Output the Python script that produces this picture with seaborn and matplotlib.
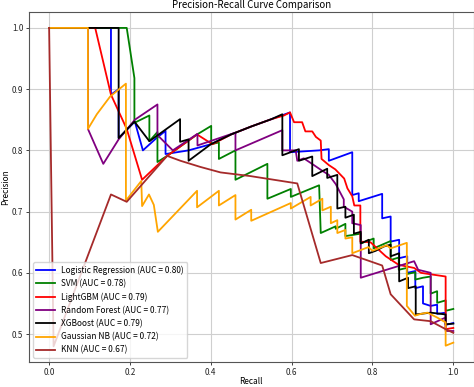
import matplotlib
matplotlib.use("Agg")
import matplotlib.pyplot as plt
from matplotlib.lines import Line2D
import pandas as pd
import seaborn as sns

MODELS = ["Logistic Regression", "SVM", "LightGBM", "Random Forest",
          "XGBoost", "Gaussian NB", "KNN"]
AUC = [0.80, 0.78, 0.79, 0.77, 0.79, 0.72, 0.67]
COLORS = ["blue", "green", "red", "purple", "black", "orange", "brown"]

# values
lr_recall = [0.0, 0.153, 0.153, 0.172, 0.172, 0.212, 0.232, 0.262, 0.288, 0.288,
             0.345, 0.40, 0.45, 0.50, 0.55, 0.596, 0.596, 0.668, 0.692, 0.692,
             0.75, 0.75, 0.766, 0.766, 0.824, 0.824, 0.845, 0.845, 0.866, 0.866,
             0.886, 0.886, 0.906, 0.906, 0.925, 0.925, 0.944, 0.96, 0.96, 0.981,
             0.981, 1.0]
lr_precision = [1.0, 1.0, 0.891, 0.900, 0.82, 0.847, 0.80, 0.818, 0.832, 0.794,
                0.80, 0.81, 0.826, 0.839, 0.851, 0.862, 0.797, 0.80, 0.802, 0.783,
                0.797, 0.727, 0.730, 0.717, 0.729, 0.689, 0.692, 0.651, 0.654, 0.624,
                0.627, 0.60, 0.603, 0.575, 0.578, 0.55, 0.546, 0.548, 0.533, 0.535,
                0.515, 0.518]

svm_recall = [0.0, 0.192, 0.211, 0.211, 0.248, 0.248, 0.268, 0.268, 0.292, 0.366,
              0.401, 0.401, 0.42, 0.42, 0.461, 0.461, 0.54, 0.54, 0.598, 0.598,
              0.668, 0.672, 0.709, 0.709, 0.733, 0.733, 0.771, 0.771, 0.803, 0.803,
              0.845, 0.845, 0.865, 0.865, 0.885, 0.885, 0.906, 0.906, 0.925, 0.944,
              0.944, 0.960, 0.960, 0.981, 0.981, 1.0]
svm_precision = [1.0, 1.0, 0.918, 0.845, 0.857, 0.815, 0.83, 0.781, 0.791, 0.826,
                 0.840, 0.81, 0.813, 0.786, 0.80, 0.752, 0.778, 0.721, 0.737, 0.724,
                 0.743, 0.665, 0.676, 0.672, 0.680, 0.66, 0.664, 0.648, 0.656, 0.64,
                 0.652, 0.621, 0.625, 0.605, 0.608, 0.598, 0.601, 0.589, 0.592, 0.594,
                 0.566, 0.570, 0.551, 0.555, 0.538, 0.541]

lgbm_recall = [0.0, 0.114, 0.153, 0.192, 0.230, 0.292, 0.366, 0.404, 0.45, 0.50,
               0.55, 0.581, 0.596, 0.606, 0.626, 0.634, 0.651, 0.660, 0.672, 0.674,
               0.692, 0.708, 0.730, 0.738, 0.750, 0.755, 0.770, 0.770, 0.795, 0.833,
               0.865, 0.903, 0.920, 0.940, 0.981, 0.981, 1.0]
lgbm_precision = [1.0, 1.0, 0.891, 0.835, 0.752, 0.791, 0.826, 0.810, 0.826, 0.839,
                  0.851, 0.857, 0.862, 0.846, 0.846, 0.831, 0.831, 0.822, 0.816, 0.786,
                  0.776, 0.769, 0.754, 0.738, 0.725, 0.71, 0.710, 0.651, 0.650, 0.627,
                  0.613, 0.608, 0.600, 0.598, 0.594, 0.508, 0.510]

rf_recall = [0.0, 0.096, 0.096, 0.134, 0.172, 0.212, 0.268, 0.268, 0.306, 0.367,
             0.367, 0.461, 0.461, 0.577, 0.577, 0.610, 0.614, 0.630, 0.655, 0.675,
             0.692, 0.709, 0.729, 0.729, 0.750, 0.750, 0.771, 0.771, 0.903, 0.913,
             0.944, 0.944, 0.981, 0.981, 1.0]
rf_precision = [1.0, 1.0, 0.835, 0.778, 0.818, 0.850, 0.875, 0.825, 0.800, 0.827,
                0.808, 0.829, 0.800, 0.833, 0.800, 0.800, 0.783, 0.787, 0.776, 0.767,
                0.760, 0.745, 0.720, 0.708, 0.700, 0.681, 0.678, 0.592, 0.619, 0.605,
                0.600, 0.516, 0.527, 0.505, 0.505]

xgb_recall = [0.0, 0.172, 0.172, 0.211, 0.248, 0.324, 0.324, 0.345, 0.345, 0.40,
              0.45, 0.50, 0.55, 0.577, 0.577, 0.618, 0.618, 0.651, 0.651, 0.688,
              0.688, 0.713, 0.713, 0.733, 0.733, 0.754, 0.754, 0.771, 0.771, 0.791,
              0.791, 0.808, 0.828, 0.845, 0.845, 0.866, 0.866, 0.888, 0.888, 0.907,
              0.907, 0.944, 0.981, 0.981, 1.0]
xgb_precision = [1.0, 1.0, 0.82, 0.847, 0.815, 0.851, 0.814, 0.818, 0.783, 0.81,
                 0.826, 0.839, 0.851, 0.859, 0.792, 0.802, 0.783, 0.790, 0.758, 0.770,
                 0.755, 0.760, 0.705, 0.708, 0.690, 0.695, 0.664, 0.667, 0.648, 0.654,
                 0.632, 0.636, 0.643, 0.646, 0.627, 0.632, 0.586, 0.592, 0.575, 0.578,
                 0.532, 0.535, 0.532, 0.516, 0.517]

gnb_recall = [0.0, 0.096, 0.096, 0.118, 0.151, 0.19, 0.19, 0.228, 0.230, 0.247,
              0.259, 0.269, 0.366, 0.366, 0.420, 0.420, 0.461, 0.461, 0.500, 0.500,
              0.598, 0.598, 0.647, 0.647, 0.676, 0.676, 0.697, 0.697, 0.713, 0.713,
              0.733, 0.733, 0.750, 0.750, 0.790, 0.800, 0.835, 0.845, 0.885, 0.885,
              0.905, 0.920, 0.936, 0.960, 0.981, 0.981, 1.0]
gnb_precision = [1.0, 1.0, 0.835, 0.859, 0.888, 0.909, 0.718, 0.750, 0.709, 0.728,
                 0.711, 0.667, 0.734, 0.707, 0.734, 0.710, 0.727, 0.687, 0.703, 0.685,
                 0.714, 0.705, 0.724, 0.710, 0.721, 0.702, 0.708, 0.681, 0.686, 0.665,
                 0.670, 0.656, 0.658, 0.632, 0.642, 0.636, 0.645, 0.640, 0.649, 0.546,
                 0.530, 0.533, 0.535, 0.527, 0.519, 0.481, 0.486]

knn_recall = [0.0, 0.011, 0.153, 0.192, 0.292, 0.325, 0.374, 0.424, 0.498, 0.614,
              0.672, 0.750, 0.824, 0.845, 0.903, 0.944, 0.981, 1.0]
knn_precision = [1.0, 0.48, 0.728, 0.716, 0.791, 0.783, 0.773, 0.764, 0.758, 0.746,
                 0.616, 0.629, 0.612, 0.565, 0.524, 0.521, 0.508, 0.502]

curves = [
    (lr_recall, lr_precision),
    (svm_recall, svm_precision),
    (lgbm_recall, lgbm_precision),
    (rf_recall, rf_precision),
    (xgb_recall, xgb_precision),
    (gnb_recall, gnb_precision),
    (knn_recall, knn_precision),
]

labels = [f"{m} (AUC = {a:.2f})" for m, a in zip(MODELS, AUC)]

frames = []
for label, (rec, prec) in zip(labels, curves):
    frames.append(pd.DataFrame({"recall": rec, "precision": prec, "model": label}))
df = pd.concat(frames, ignore_index=True)

plt.rcParams["font.family"] = ["Noto Sans CJK SC", "DejaVu Sans"]
plt.rcParams["axes.unicode_minus"] = False

fig = plt.figure(figsize=(4.74, 3.87), dpi=100)
ax = fig.add_axes([0.061, 0.064, 0.938, 0.905])

palette = dict(zip(labels, COLORS))
sns.lineplot(data=df, x="recall", y="precision", hue="model", hue_order=labels,
             palette=palette, sort=False, estimator=None, linewidth=1.3,
             legend=False, ax=ax)

ax.grid(True, color="#cfcfcf", linewidth=0.8)
ax.set_axisbelow(True)
for sp in ax.spines.values():
    sp.set_color("#555555")
    sp.set_linewidth(0.8)
ax.tick_params(labelsize=5.8, length=2, width=0.6, pad=2, colors="#222222")

ax.set_title("Precision-Recall Curve Comparison", fontsize=7, pad=3)
ax.set_xlabel("Recall", fontsize=6, labelpad=0.5)
ax.set_ylabel("Precision", fontsize=6, labelpad=1)

handles = [Line2D([0], [0], color=c, linewidth=1.3, label=l)
           for c, l in zip(COLORS, labels)]
ax.legend(handles=handles, loc="lower left", fontsize=6, framealpha=0.8,
          handlelength=2.2)

fig.savefig("out.png", dpi=100)
